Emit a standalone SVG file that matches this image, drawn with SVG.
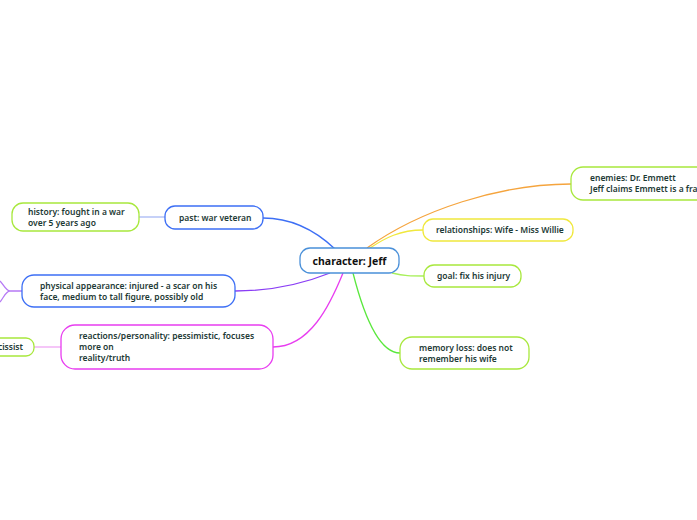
<svg xmlns="http://www.w3.org/2000/svg" width="697" height="520" viewBox="0 0 697 520">
<style>
.n{fill:#fff;stroke-width:1.3}
.t{font-family:"Noto Sans",sans-serif;font-size:8.5px;font-weight:600;fill:#1d3a35}
.c{fill:none;stroke-width:1.3}
</style>
<rect width="697" height="520" fill="#fff"/>
<g id="connectors">
<path class="c" stroke="#3d6ff5" d="M335 249 C315 230 290 218 263 218"/>
<path class="c" stroke="#a8b8f5" d="M139 217 H165"/>
<path class="c" stroke="#8a3df5" d="M330 273 C300 285 270 291 235 291"/>
<path class="c" stroke="#b67af5" d="M22 291 H10 C6 291 4 285 0 281 M10 291 C6 291 4 297 0 302"/>
<path class="c" stroke="#e83df0" d="M343 273 C330 305 310 347 273 347"/>
<path class="c" stroke="#f0a8f5" d="M34 347 H61"/>
<path class="c" stroke="#f5a43d" d="M367 248 C420 210 500 184 571 184"/>
<path class="c" stroke="#f0e83d" d="M370 248 C385 238 400 230 423 230"/>
<path class="c" stroke="#a8f05a" d="M392 273 C405 276 410 276 424 276"/>
<path class="c" stroke="#5ae83d" d="M353 273 C365 320 380 353 400 353"/>
</g>
<g id="center"><rect class="n" x="300" y="248" width="99" height="25" rx="10" stroke="#4a90d9"/><text x="349.5" y="264.5" text-anchor="middle" style="font-family:'Noto Sans',sans-serif;font-size:10.5px;font-weight:700;fill:#111">character: Jeff</text></g>
<g id="enemies"><rect class="n" x="571" y="167" width="140" height="33" rx="12" stroke="#a8e83d"/><text class="t" x="590" y="181">enemies: Dr. Emmett</text><text class="t" x="590" y="192">Jeff claims Emmett is a fraud</text></g>
<g id="relationships"><rect class="n" x="423" y="219" width="150" height="22" rx="10" stroke="#f0e83d"/><text class="t" x="436" y="233">relationships: Wife - Miss Willie</text></g>
<g id="goal"><rect class="n" x="424" y="265" width="97" height="22" rx="10" stroke="#a8e83d"/><text class="t" x="437" y="279">goal: fix his injury</text></g>
<g id="memory"><rect class="n" x="400" y="337" width="129" height="32" rx="12" stroke="#a8e83d"/><text class="t" x="419" y="351">memory loss: does not</text><text class="t" x="419" y="362">remember his wife</text></g>
<g id="past"><rect class="n" x="165" y="206" width="98" height="23" rx="10" stroke="#3d6ff5"/><text class="t" x="179" y="221">past: war veteran</text></g>
<g id="history"><rect class="n" x="12" y="203" width="127" height="28" rx="11" stroke="#a8e83d"/><text class="t" x="28" y="215">history: fought in a war</text><text class="t" x="28" y="226">over 5 years ago</text></g>
<g id="physical"><rect class="n" x="22" y="275" width="213" height="32" rx="12" stroke="#3d6ff5"/><text class="t" x="40" y="289">physical appearance: injured - a scar on his</text><text class="t" x="40" y="300">face, medium to tall figure, possibly old</text></g>
<g id="reactions"><rect class="n" x="61" y="325" width="212" height="44" rx="14" stroke="#e83df0"/><text class="t" x="79" y="339">reactions/personality: pessimistic, focuses</text><text class="t" x="79" y="350">more on</text><text class="t" x="79" y="361">reality/truth</text></g>
<g id="narcissist"><rect class="n" x="-40" y="338" width="74" height="18" rx="8" stroke="#a8e83d"/><text class="t" x="23" y="350" text-anchor="end">narcissist</text></g>
</svg>
